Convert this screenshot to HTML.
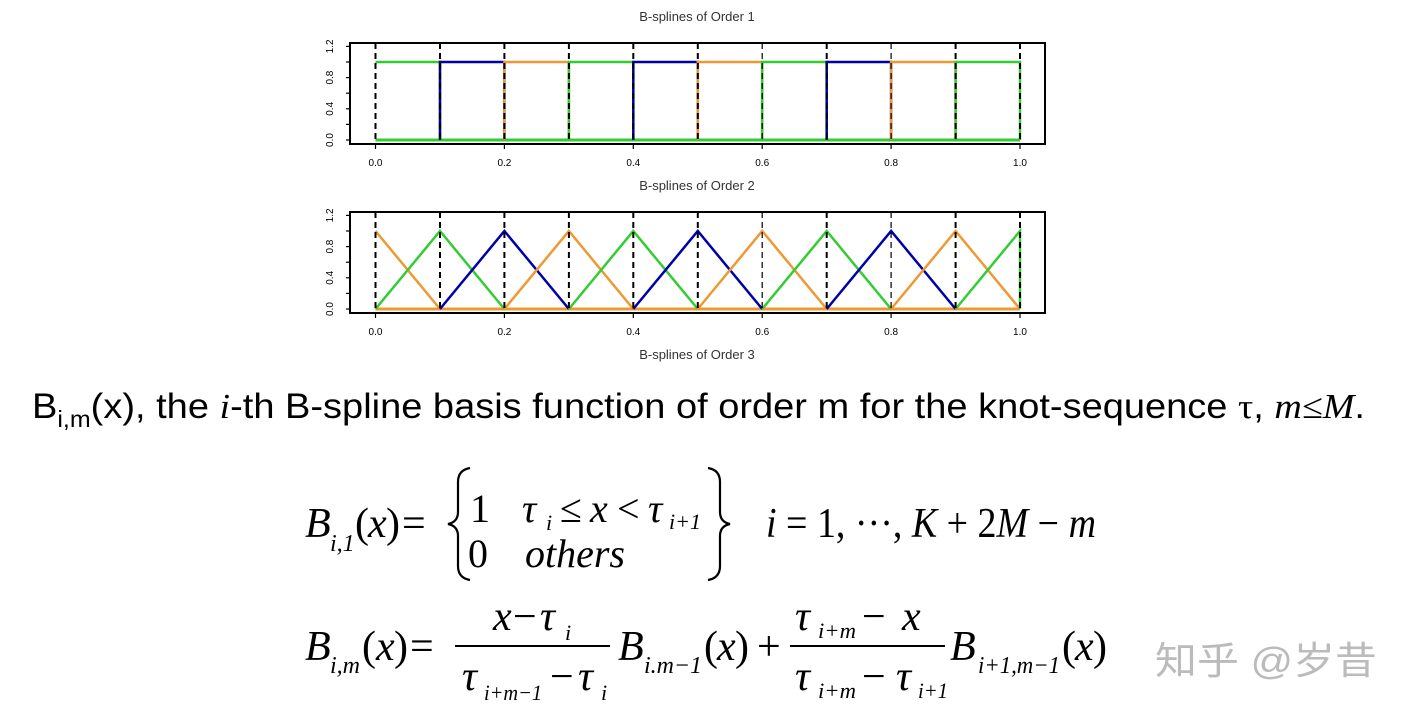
<!DOCTYPE html>
<html><head><meta charset="utf-8"><style>
html,body{margin:0;padding:0;background:#fff;}
svg{display:block}
.ti{font-family:"Liberation Sans",sans-serif;font-size:13px;fill:#333}
.ax{font-family:"Liberation Sans",sans-serif;font-size:10px;fill:#000}
.m{font-family:"Liberation Serif",serif;font-style:italic;fill:#000}
.u{font-family:"Liberation Serif",serif;font-style:normal;fill:#000}
</style></head><body>
<svg width="1414" height="716" viewBox="0 0 1414 716" xmlns="http://www.w3.org/2000/svg">
<rect width="1414" height="716" fill="#fff"/>
<text class="ti" x="697" y="21" text-anchor="middle">B-splines of Order 1</text>
<text class="ti" x="697" y="190" text-anchor="middle">B-splines of Order 2</text>
<text class="ti" x="697" y="359" text-anchor="middle">B-splines of Order 3</text>

<!-- Plot 1 -->
<g id="p1">
<g stroke="#000" stroke-width="1.2">
<line x1="350" y1="140" x2="346" y2="140"/><line x1="350" y1="124.4" x2="346" y2="124.4"/>
<line x1="350" y1="108.8" x2="346" y2="108.8"/><line x1="350" y1="93.2" x2="346" y2="93.2"/>
<line x1="350" y1="77.6" x2="346" y2="77.6"/><line x1="350" y1="62" x2="346" y2="62"/>
<line x1="350" y1="46.4" x2="346" y2="46.4"/>
<line x1="375.5" y1="144" x2="375.5" y2="149"/><line x1="504.4" y1="144" x2="504.4" y2="149"/>
<line x1="633.3" y1="144" x2="633.3" y2="149"/><line x1="762.2" y1="144" x2="762.2" y2="149"/>
<line x1="891.1" y1="144" x2="891.1" y2="149"/><line x1="1020" y1="144" x2="1020" y2="149"/>
</g>
<g class="ax">
<text transform="translate(333,140) rotate(-90)" text-anchor="middle">0.0</text>
<text transform="translate(333,108.8) rotate(-90)" text-anchor="middle">0.4</text>
<text transform="translate(333,77.6) rotate(-90)" text-anchor="middle">0.8</text>
<text transform="translate(333,46.4) rotate(-90)" text-anchor="middle">1.2</text>
<text x="375.5" y="166" text-anchor="middle">0.0</text><text x="504.4" y="166" text-anchor="middle">0.2</text>
<text x="633.3" y="166" text-anchor="middle">0.4</text><text x="762.2" y="166" text-anchor="middle">0.6</text>
<text x="891.1" y="166" text-anchor="middle">0.8</text><text x="1020" y="166" text-anchor="middle">1.0</text>
</g>
<line x1="375.5" y1="140" x2="1020" y2="140" stroke="#3c3" stroke-width="3"/>
<g fill="none" stroke-width="2.5">
<polyline stroke="#3c3" points="375.5,62 440,62 440,140"/>
<polyline stroke="#00a" points="440,140 440,62 504.4,62 504.4,140"/>
<polyline stroke="#e93" points="504.4,140 504.4,62 568.9,62 568.9,140"/>
<polyline stroke="#3c3" points="568.9,140 568.9,62 633.3,62 633.3,140"/>
<polyline stroke="#00a" points="633.3,140 633.3,62 697.8,62 697.8,140"/>
<polyline stroke="#e93" points="697.8,140 697.8,62 762.2,62 762.2,140"/>
<polyline stroke="#3c3" points="762.2,140 762.2,62 826.7,62 826.7,140"/>
<polyline stroke="#00a" points="826.7,140 826.7,62 891.1,62 891.1,140"/>
<polyline stroke="#e93" points="891.1,140 891.1,62 955.6,62 955.6,140"/>
<polyline stroke="#3c3" points="955.6,140 955.6,62 1020,62 1020,140"/>
</g>
<g stroke="#000" stroke-width="2" stroke-dasharray="6,4">
<line x1="375.5" y1="43" x2="375.5" y2="144"/><line x1="440" y1="43" x2="440" y2="144"/>
<line x1="504.4" y1="43" x2="504.4" y2="144"/><line x1="568.9" y1="43" x2="568.9" y2="144"/>
<line x1="633.3" y1="43" x2="633.3" y2="144"/><line x1="697.8" y1="43" x2="697.8" y2="144"/>
<line x1="762.2" y1="43" x2="762.2" y2="144" stroke-width="1.2"/><line x1="826.7" y1="43" x2="826.7" y2="144"/>
<line x1="891.1" y1="43" x2="891.1" y2="144" stroke-width="1.2"/><line x1="955.6" y1="43" x2="955.6" y2="144"/>
<line x1="1020" y1="43" x2="1020" y2="144"/>
</g>
<rect x="350" y="43" width="695" height="101" fill="none" stroke="#000" stroke-width="2"/>
</g>

<!-- Plot 2 -->
<g>
<g stroke="#000" stroke-width="1.2">
<line x1="350" y1="309" x2="346" y2="309"/><line x1="350" y1="293.4" x2="346" y2="293.4"/>
<line x1="350" y1="277.8" x2="346" y2="277.8"/><line x1="350" y1="262.2" x2="346" y2="262.2"/>
<line x1="350" y1="246.6" x2="346" y2="246.6"/><line x1="350" y1="231" x2="346" y2="231"/>
<line x1="350" y1="215.4" x2="346" y2="215.4"/>
<line x1="375.5" y1="313" x2="375.5" y2="318"/><line x1="504.4" y1="313" x2="504.4" y2="318"/>
<line x1="633.3" y1="313" x2="633.3" y2="318"/><line x1="762.2" y1="313" x2="762.2" y2="318"/>
<line x1="891.1" y1="313" x2="891.1" y2="318"/><line x1="1020" y1="313" x2="1020" y2="318"/>
</g>
<g class="ax">
<text transform="translate(333,309) rotate(-90)" text-anchor="middle">0.0</text>
<text transform="translate(333,277.8) rotate(-90)" text-anchor="middle">0.4</text>
<text transform="translate(333,246.6) rotate(-90)" text-anchor="middle">0.8</text>
<text transform="translate(333,215.4) rotate(-90)" text-anchor="middle">1.2</text>
<text x="375.5" y="335" text-anchor="middle">0.0</text><text x="504.4" y="335" text-anchor="middle">0.2</text>
<text x="633.3" y="335" text-anchor="middle">0.4</text><text x="762.2" y="335" text-anchor="middle">0.6</text>
<text x="891.1" y="335" text-anchor="middle">0.8</text><text x="1020" y="335" text-anchor="middle">1.0</text>
</g>
<line x1="375.5" y1="309" x2="1020" y2="309" stroke="#e93" stroke-width="3"/>
<g fill="none" stroke-width="2.5">
<polyline stroke="#e93" points="375.5,231 440,309"/>
<polyline stroke="#3c3" points="375.5,309 440,231 504.4,309"/>
<polyline stroke="#00a" points="440,309 504.4,231 568.9,309"/>
<polyline stroke="#e93" points="504.4,309 568.9,231 633.3,309"/>
<polyline stroke="#3c3" points="568.9,309 633.3,231 697.8,309"/>
<polyline stroke="#00a" points="633.3,309 697.8,231 762.2,309"/>
<polyline stroke="#e93" points="697.8,309 762.2,231 826.7,309"/>
<polyline stroke="#3c3" points="762.2,309 826.7,231 891.1,309"/>
<polyline stroke="#00a" points="826.7,309 891.1,231 955.6,309"/>
<polyline stroke="#e93" points="891.1,309 955.6,231 1020,309"/>
<polyline stroke="#3c3" points="955.6,309 1020,231 1020,309"/>
</g>
<g stroke="#000" stroke-width="2" stroke-dasharray="6,4">
<line x1="375.5" y1="212" x2="375.5" y2="313"/><line x1="440" y1="212" x2="440" y2="313"/>
<line x1="504.4" y1="212" x2="504.4" y2="313"/><line x1="568.9" y1="212" x2="568.9" y2="313"/>
<line x1="633.3" y1="212" x2="633.3" y2="313"/><line x1="697.8" y1="212" x2="697.8" y2="313"/>
<line x1="762.2" y1="212" x2="762.2" y2="313" stroke-width="1.2"/><line x1="826.7" y1="212" x2="826.7" y2="313"/>
<line x1="891.1" y1="212" x2="891.1" y2="313" stroke-width="1.2"/><line x1="955.6" y1="212" x2="955.6" y2="313"/>
<line x1="1020" y1="212" x2="1020" y2="313"/>
</g>
<rect x="350" y="212" width="695" height="101" fill="none" stroke="#000" stroke-width="2"/>
</g>

<!-- Sentence -->
<text x="32" y="418" textLength="1333" lengthAdjust="spacingAndGlyphs" style="font-family:'Liberation Sans',sans-serif;font-size:35px;fill:#000">B<tspan font-size="23" dy="9">i,m</tspan><tspan dy="-9">(x), the </tspan><tspan style="font-family:'Liberation Serif',serif;font-style:italic">i</tspan>-th B-spline basis function of order m for the knot-sequence <tspan style="font-family:'Liberation Serif',serif">τ</tspan>, <tspan style="font-family:'Liberation Serif',serif;font-style:italic">m≤M</tspan>.</text>

<!-- Formula 1 -->
<g font-size="42">
<text class="m" x="305" y="537">B</text>
<text class="m" x="330" y="551" font-size="24">i,1</text>
<text class="u" x="355" y="537">(</text><text class="m" x="368" y="537">x</text><text class="u" x="386" y="537">)</text>
<text class="u" x="402" y="537">=</text>
<path d="M470,468 Q458,470 458,482 L458,512 Q458,522 448,524 Q458,526 458,536 L458,566 Q458,578 470,580" fill="none" stroke="#000" stroke-width="2.2"/>
<text class="u" x="470" y="522" font-size="40">1</text>
<text class="m" x="522" y="522" font-size="40">τ</text><text class="m" x="546" y="530" font-size="22">i</text>
<text class="u" x="560" y="522" font-size="40">≤</text>
<text class="m" x="590" y="522" font-size="40">x</text>
<text class="u" x="617" y="522" font-size="40">&lt;</text>
<text class="m" x="648" y="522" font-size="40">τ</text><text class="m" x="669" y="529" font-size="22" textLength="32" lengthAdjust="spacingAndGlyphs">i+1</text>
<text class="u" x="468" y="567" font-size="40">0</text>
<text class="m" x="525" y="567" font-size="40" textLength="100" lengthAdjust="spacingAndGlyphs">others</text>
<path d="M708,468 Q720,470 720,482 L720,512 Q720,522 730,524 Q720,526 720,536 L720,566 Q720,578 708,580" fill="none" stroke="#000" stroke-width="2.2"/>
<text class="m" x="766" y="537" textLength="330" lengthAdjust="spacingAndGlyphs"><tspan>i</tspan><tspan class="u"> = 1, ···, </tspan><tspan>K</tspan><tspan class="u"> + 2</tspan><tspan>M</tspan><tspan class="u"> − </tspan><tspan>m</tspan></text>
</g>

<!-- Formula 2 -->
<g font-size="42">
<text class="m" x="305" y="660">B</text>
<text class="m" x="330" y="673" font-size="24">i,m</text>
<text class="u" x="362" y="660">(</text><text class="m" x="376" y="660">x</text><text class="u" x="394" y="660">)</text>
<text class="u" x="410" y="660">=</text>
<line x1="455" y1="646" x2="610" y2="646" stroke="#000" stroke-width="2"/>
<text class="m" x="493" y="630">x</text><text class="u" x="513" y="630">−</text><text class="m" x="540" y="630">τ</text><text class="m" x="565" y="640" font-size="22">i</text>
<text class="m" x="462" y="690">τ</text><text class="m" x="484" y="700" font-size="22" textLength="58" lengthAdjust="spacingAndGlyphs">i+m−1</text>
<text class="u" x="550" y="690">−</text><text class="m" x="578" y="690">τ</text><text class="m" x="601" y="700" font-size="22">i</text>
<text class="m" x="618" y="660">B</text>
<text class="m" x="644" y="673" font-size="24" textLength="58" lengthAdjust="spacingAndGlyphs">i.m−1</text>
<text class="u" x="704" y="660">(</text><text class="m" x="717" y="660">x</text><text class="u" x="735" y="660">)</text>
<text class="u" x="757" y="660">+</text>
<line x1="790" y1="646" x2="945" y2="646" stroke="#000" stroke-width="2"/>
<text class="m" x="795" y="630">τ</text><text class="m" x="818" y="638" font-size="22" textLength="38" lengthAdjust="spacingAndGlyphs">i+m</text>
<text class="u" x="862" y="630">−</text><text class="m" x="902" y="630">x</text>
<text class="m" x="795" y="690">τ</text><text class="m" x="818" y="698" font-size="22" textLength="38" lengthAdjust="spacingAndGlyphs">i+m</text>
<text class="u" x="862" y="690">−</text><text class="m" x="896" y="690">τ</text><text class="m" x="918" y="698" font-size="22" textLength="30" lengthAdjust="spacingAndGlyphs">i+1</text>
<text class="m" x="950" y="660">B</text>
<text class="m" x="978" y="673" font-size="24" textLength="82" lengthAdjust="spacingAndGlyphs">i+1,m−1</text>
<text class="u" x="1062" y="660">(</text><text class="m" x="1075" y="660">x</text><text class="u" x="1093" y="660">)</text>
</g>

<text x="1155" y="674" textLength="222" lengthAdjust="spacingAndGlyphs" style="font-family:'Liberation Sans','Noto Sans CJK SC',sans-serif;font-size:38px;fill:#bbb">知乎 @岁昔</text>
</svg>
</body></html>
